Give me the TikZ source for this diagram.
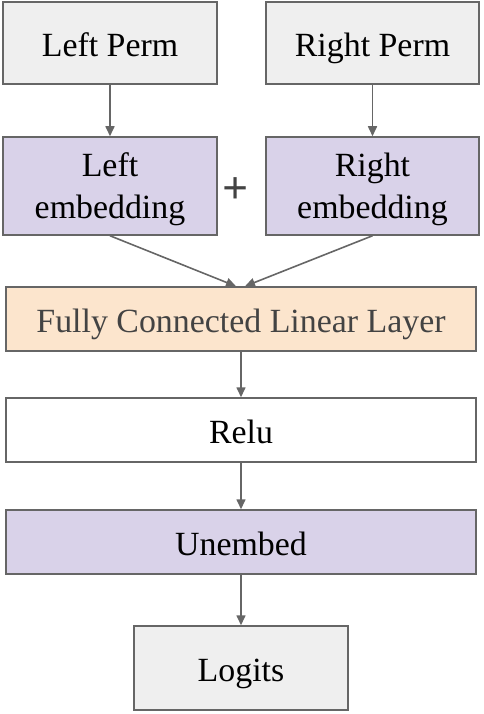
\documentclass[tikz,border=0pt]{standalone}
\usepackage{fontspec}
\setmainfont{Liberation Serif}
\usetikzlibrary{arrows.meta}
\definecolor{boxgray}{HTML}{EFEFEF}
\definecolor{boxpurple}{HTML}{D9D2E9}
\definecolor{boxorange}{HTML}{FCE5CD}
\definecolor{linegray}{HTML}{666666}
\definecolor{darktext}{HTML}{434343}
\begin{document}
\begin{tikzpicture}[x=1bp,y=-1bp,
  blk/.style={draw=linegray,line width=1.5bp,rectangle,inner sep=0pt,align=center,
    font=\fontsize{34}{42}\selectfont,text=black,text height=27bp,text depth=0bp},
  two/.style={text height=64bp,text depth=0bp},
  conn/.style={draw=linegray,line width=1.6bp,-{Triangle[length=10bp,width=9bp]}}]
\useasboundingbox (0,0) rectangle (484,714);
\node[blk,fill=boxgray,minimum width=214bp,minimum height=82bp] (lp) at (110,43) {Left Perm};
\node[blk,fill=boxgray,minimum width=213bp,minimum height=82bp] (rp) at (372.5,43) {Right Perm};
\node[blk,two,fill=boxpurple,minimum width=214bp,minimum height=98bp] (le) at (110,186) {Left\\embedding};
\node[blk,two,fill=boxpurple,minimum width=213bp,minimum height=98bp] (re) at (372.5,186) {Right\\embedding};
\node[font=\fontsize{46}{46}\selectfont\bfseries,text=darktext,inner sep=0pt] (plus) at (236,191) {+};
\node[blk,fill=boxorange,text=darktext,minimum width=470bp,minimum height=64bp] (fc) at (241,319) {Fully Connected Linear Layer};
\node[blk,fill=white,minimum width=470bp,minimum height=64bp] (relu) at (241,430) {Relu};
\node[blk,fill=boxpurple,minimum width=470bp,minimum height=64bp] (un) at (241,542) {Unembed};
\node[blk,fill=boxgray,minimum width=214bp,minimum height=84bp] (lg) at (241,668) {Logits};
\draw[conn] (lp) -- (le);
\draw[conn] (rp) -- (re);
\draw[conn] (le.south) -- ([xshift=-5bp]fc.north);
\draw[conn] (re.south) -- ([xshift=4bp]fc.north);
\draw[conn] (fc) -- (relu);
\draw[conn] (relu) -- (un);
\draw[conn] (un) -- (lg);
\end{tikzpicture}
\end{document}
